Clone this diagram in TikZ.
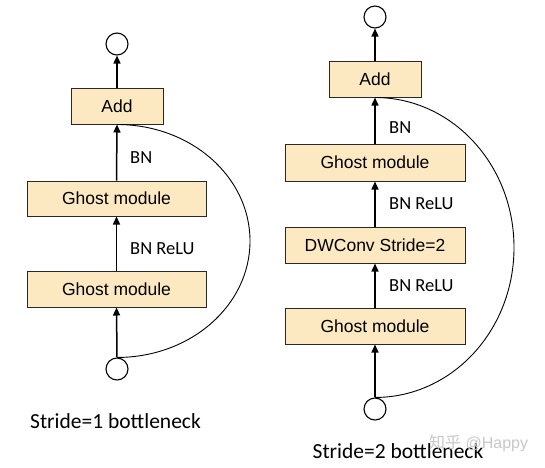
\documentclass[tikz,border=0pt]{standalone}
\usepackage{fontspec}
\setmainfont{Liberation Sans}
\newfontfamily\calib{Carlito}
\newfontfamily\cjk{Noto Sans CJK SC}
\usetikzlibrary{arrows.meta}
\definecolor{boxfill}{RGB}{252,233,194}
\definecolor{boxline}{RGB}{40,40,40}
\tikzset{
  blk/.style={draw=boxline, line width=1pt, fill=boxfill, inner sep=0pt, font=\fontsize{17.5}{20}\selectfont},
  io/.style={circle, draw, line width=1.1pt, minimum size=22pt, inner sep=0pt},
  flow/.style={-{Triangle[length=8pt,width=7pt]}, line width=1.5pt},
  skip/.style={line width=0.9pt},
  lbl/.style={anchor=west, inner sep=0pt, font=\calib\fontsize{18.5}{21}\selectfont},
  captext/.style={inner sep=0pt, font=\calib\fontsize{21.5}{24}\selectfont},
}
\begin{document}
\begin{tikzpicture}[x=1pt,y=-1pt]
\useasboundingbox (0,0) rectangle (545,467);
% left column
\node[io] (outA) at (117,44) {};
\node[blk, minimum width=92pt, minimum height=36pt] (addA) at (117,106) {Add};
\node[blk, minimum width=179pt, minimum height=35pt] (g1A) at (116.5,198.5) {Ghost module};
\node[blk, minimum width=179pt, minimum height=36pt] (g2A) at (116.5,289) {Ghost module};
\node[io] (inA) at (117,369) {};
\draw[flow] (inA.north) -- (g2A.south);
\draw[flow] (g2A.north) -- (g1A.south);
\draw[flow] (g1A.north) -- (addA.south);
\draw[flow] (addA.north) -- (outA.south);
\coordinate (mA) at (250,241);
\draw[skip] (inA.north) .. controls +(73.5,0) and +(0,64.6) .. (mA)
  .. controls +(0,-64.6) and +(73.5,0) .. (addA.south);
\node[lbl] (bnA) at (130,158) {BN};
\node[lbl] (brA) at (130,249) {BN ReLU};
\node[captext] (capA) at (115.5,421) {Stride=1 bottleneck};
% right column
\node[io] (outB) at (375,17) {};
\node[blk, minimum width=92pt, minimum height=36pt] (addB) at (375,79) {Add};
\node[blk, minimum width=180pt, minimum height=37pt] (g1B) at (375,162.5) {Ghost module};
\node[blk, minimum width=180pt, minimum height=36pt] (dwB) at (375,245) {DWConv Stride=2};
\node[blk, minimum width=180pt, minimum height=36pt] (g2B) at (375,326) {Ghost module};
\node[io] (inB) at (375,409) {};
\draw[flow] (inB.north) -- (g2B.south);
\draw[flow] (g2B.north) -- (dwB.south);
\draw[flow] (dwB.north) -- (g1B.south);
\draw[flow] (g1B.north) -- (addB.south);
\draw[flow] (addB.north) -- (outB.south);
\coordinate (mB) at (514,247.5);
\draw[skip] (inB.north) .. controls +(76.8,0) and +(0,83.1) .. (mB)
  .. controls +(0,-83.1) and +(76.8,0) .. (addB.south);
\node[lbl] (bnB) at (389,128) {BN};
\node[lbl] (br1B) at (389,204) {BN ReLU};
\node[lbl] (br2B) at (389,286) {BN ReLU};
\node[captext] (capB) at (398,451) {Stride=2 bottleneck};
\node[anchor=west, inner sep=0pt, text=black!22, font=\fontsize{16}{18}\selectfont] (wm) at (429,443) {{\cjk 知乎} @Happy};
\end{tikzpicture}
\end{document}
